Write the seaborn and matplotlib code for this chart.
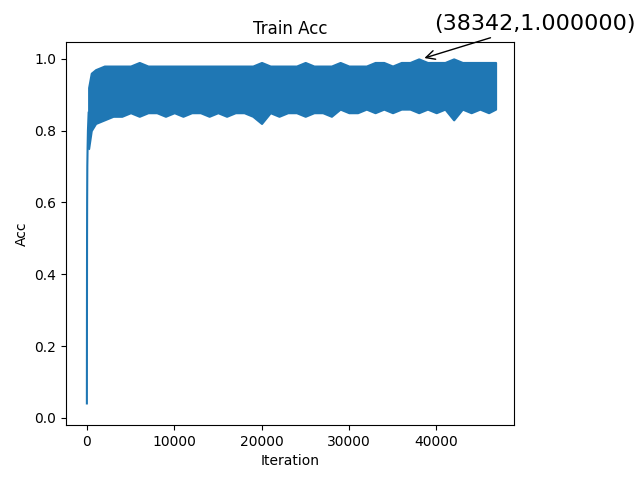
import matplotlib
matplotlib.use("Agg")
import matplotlib.pyplot as plt
import seaborn as sns
import pandas as pd

# early ramp of training accuracy
ramp_iter = [0, 10, 20, 30, 50, 80, 120, 200]
ramp_acc = [0.04, 0.30, 0.50, 0.60, 0.70, 0.75, 0.80, 0.85]

# envelope of the noisy band, every 1000 iterations
band_iter = [200, 500, 1000, 2000, 3000, 4000, 5000, 6000, 7000, 8000, 9000, 10000,
             11000, 12000, 13000, 14000, 15000, 16000, 17000, 18000, 19000, 20000,
             21000, 22000, 23000, 24000, 25000, 26000, 27000, 28000, 29000, 30000,
             31000, 32000, 33000, 34000, 35000, 36000, 37000, 38000, 39000, 40000,
             41000, 42000, 43000, 44000, 45000, 46000, 46800]
band_lo = [0.75, 0.80, 0.82, 0.83, 0.84, 0.84, 0.85, 0.84, 0.85, 0.85, 0.84, 0.85,
           0.84, 0.85, 0.85, 0.84, 0.85, 0.84, 0.85, 0.85, 0.84, 0.82,
           0.85, 0.84, 0.85, 0.85, 0.84, 0.85, 0.85, 0.84, 0.86, 0.85,
           0.85, 0.86, 0.85, 0.86, 0.85, 0.86, 0.86, 0.85, 0.86, 0.85,
           0.86, 0.83, 0.86, 0.85, 0.86, 0.85, 0.86]
band_hi = [0.92, 0.96, 0.97, 0.98, 0.98, 0.98, 0.98, 0.99, 0.98, 0.98, 0.98, 0.98,
           0.98, 0.98, 0.98, 0.98, 0.98, 0.98, 0.98, 0.98, 0.98, 0.99,
           0.98, 0.98, 0.98, 0.98, 0.99, 0.98, 0.98, 0.98, 0.99, 0.98,
           0.98, 0.98, 0.99, 0.99, 0.98, 0.99, 0.99, 1.00, 0.99, 0.99,
           0.99, 1.00, 0.99, 0.99, 0.99, 0.99, 0.99]

best_iter = 38342
best_acc = 1.0

color = "#1f77b4"
fig, ax = plt.subplots(figsize=(6.4, 4.8), dpi=100)
fig.subplots_adjust(left=0.103, right=0.803, top=0.9125, bottom=0.115)

ramp = pd.DataFrame({"Iteration": ramp_iter, "Acc": ramp_acc})
sns.lineplot(data=ramp, x="Iteration", y="Acc", color=color, ax=ax, lw=1.5)
ax.fill_between(band_iter, band_lo, band_hi, color=color, lw=1.5, edgecolor=color)

ax.set_xlim(-2400, 48900)
ax.set_ylim(-0.0195, 1.047)
ax.set_title("Train Acc")
ax.set_xlabel("Iteration")
ax.set_ylabel("Acc")
ax.annotate(f"({best_iter},{best_acc:.6f})", xy=(best_iter, best_acc),
            xytext=(39750, 1.08), fontsize=16, annotation_clip=False,
            arrowprops=dict(arrowstyle="->", color="black"))

fig.savefig("out.png", dpi=100)
